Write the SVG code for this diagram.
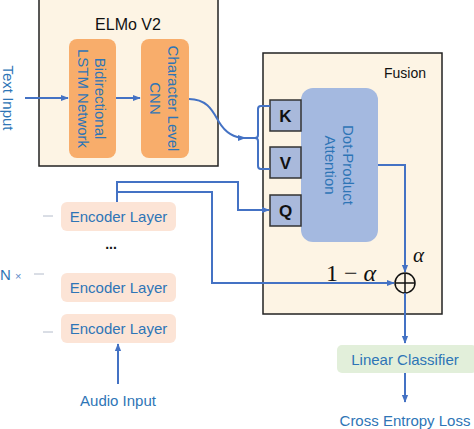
<svg xmlns="http://www.w3.org/2000/svg" width="474" height="429" viewBox="0 0 474 429">
<defs>
<marker id="arr" viewBox="0 0 10 10" refX="9" refY="5" markerWidth="4" markerHeight="4" orient="auto" markerUnits="strokeWidth">
<path d="M0,1 L10,5 L0,9 Z" fill="#4472c4"/>
</marker>
<style>
.ln{fill:none;stroke:#4472c4;stroke-width:2}
.bt{font-family:"Liberation Sans",Arial,sans-serif;font-size:15px;fill:#2e75b6}
.blk{font-family:"Liberation Sans",Arial,sans-serif;fill:#111}
.orange{fill:#f8ad6b}
.kvq{fill:#a9b9db;stroke:#333;stroke-width:1.5}
.enc{fill:#fce4d6}
.math{font-family:"Liberation Serif","Times New Roman",serif;fill:#111}
.tick{stroke:#b4bccb;stroke-width:1}
</style>
</defs>
<rect width="474" height="429" fill="#fff"/>

<g id="elmo">
<rect x="39" y="-1" width="179" height="167" fill="#fdf4e4" stroke="#222" stroke-width="1.5"/>
<text class="blk" x="128" y="30" font-size="16" text-anchor="middle">ELMo V2</text>
</g>
<g id="lstm">
<rect class="orange" x="69" y="39" width="47" height="119" rx="8"/>
<text class="bt" transform="translate(92.5,98.5) rotate(90)" text-anchor="middle"><tspan x="0" y="-2.5">Bidirectional</tspan><tspan x="0" y="14.5">LSTM Network</tspan></text>
</g>
<g id="cnn">
<rect class="orange" x="141" y="39" width="48" height="119" rx="8"/>
<text class="bt" transform="translate(165,98.5) rotate(90)" text-anchor="middle"><tspan x="0" y="-3">Character Level</tspan><tspan x="0" y="15">CNN</tspan></text>
</g>
<g id="textinput">
<text class="bt" transform="translate(8,98) rotate(90)" text-anchor="middle" y="5" font-size="14">Text Input</text>
</g>

<g id="fusion">
<rect x="263" y="53" width="179" height="261" fill="#fdf4e4" stroke="#222" stroke-width="1.5"/>
<text class="blk" x="405" y="78" font-size="14" text-anchor="middle">Fusion</text>
</g>
<g id="attention">
<rect x="301" y="88" width="77" height="154" rx="12" fill="#a4b9e0"/>
<text class="bt" transform="translate(339.5,165) rotate(90)" text-anchor="middle"><tspan x="0" y="-3.5">Dot-Product</tspan><tspan x="0" y="14.5">Attention</tspan></text>
</g>
<g id="k">
<rect class="kvq" x="270" y="100" width="31" height="31"/>
<text class="blk" x="285.5" y="122" font-size="17" font-weight="bold" text-anchor="middle">K</text>
</g>
<g id="v">
<rect class="kvq" x="270" y="147" width="31" height="31"/>
<text class="blk" x="285.5" y="169" font-size="17" font-weight="bold" text-anchor="middle">V</text>
</g>
<g id="q">
<rect class="kvq" x="270" y="195" width="31" height="31"/>
<text class="blk" x="285.5" y="217" font-size="17" font-weight="bold" text-anchor="middle">Q</text>
</g>
<g id="sum">
<circle cx="405" cy="283" r="10" fill="none" stroke="#111" stroke-width="1.5"/>
<path d="M395,283 H415 M405,273 V293" stroke="#111" stroke-width="1.5"/>
<text class="math" x="413" y="262" font-size="21" font-style="italic">α</text>
<text class="math" x="351" y="281" font-size="24" text-anchor="middle">1 − <tspan font-style="italic">α</tspan></text>
</g>

<g id="enc1">
<rect class="enc" x="61" y="202" width="115" height="29" rx="6"/>
<text class="bt" x="118.5" y="221.5" text-anchor="middle">Encoder Layer</text>
</g>
<g id="dots">
<text class="blk" x="111" y="249" font-size="14" font-weight="bold" text-anchor="middle">...</text>
</g>
<g id="enc2">
<rect class="enc" x="61" y="273" width="115" height="29" rx="6"/>
<text class="bt" x="118.5" y="292.5" text-anchor="middle">Encoder Layer</text>
</g>
<g id="enc3">
<rect class="enc" x="61" y="314" width="115" height="29" rx="6"/>
<text class="bt" x="118.5" y="333.5" text-anchor="middle">Encoder Layer</text>
</g>
<g id="nx">
<text class="bt" x="0" y="280">N <tspan font-size="11" fill="#5b8ac8">×</tspan></text>
<path class="tick" d="M43,216 H53 M34,274 H44 M43,332 H53"/>
</g>
<g id="audio">
<text class="bt" x="118" y="406" text-anchor="middle">Audio Input</text>
</g>
<g id="classifier">
<rect x="337" y="345" width="140" height="28" rx="5" fill="#e2efda"/>
<text class="bt" x="405" y="364.5" text-anchor="middle">Linear Classifier</text>
</g>
<g id="loss">
<text class="bt" x="405" y="426" text-anchor="middle">Cross Entropy Loss</text>
</g>

<g id="connectors">
<path class="ln" d="M25,98 H68" marker-end="url(#arr)"/>
<path class="ln" d="M116,98 H140" marker-end="url(#arr)"/>
<path class="ln" d="M189,99 C208,99 213,112 219,122 C225,132 233,138 245,138" marker-end="url(#arr)"/>
<path class="ln" d="M244,138 H255"/>
<path class="ln" d="M270,106 H261 Q258,106 258,109 V135 Q258,138 255,138 Q258,138 258,141 V166 Q258,169 261,169 H270"/>
<path class="ln" d="M117,202 V182 H238 V210 H269" marker-end="url(#arr)"/>
<path class="ln" d="M117,192 H212 V283 H394" marker-end="url(#arr)"/>
<path class="ln" d="M378,165 H405 V272" marker-end="url(#arr)"/>
<path class="ln" d="M405,293 V343" marker-end="url(#arr)"/>
<path class="ln" d="M405,373 V402" marker-end="url(#arr)"/>
<path class="ln" d="M118,384 V344" marker-end="url(#arr)"/>
</g>
</svg>
